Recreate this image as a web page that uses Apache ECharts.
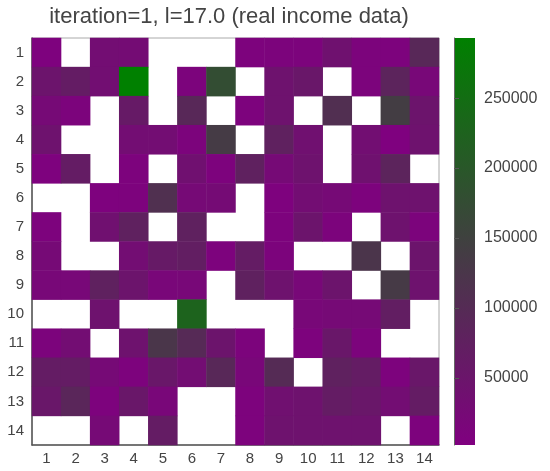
<!DOCTYPE html>
<html>
<head>
<meta charset="utf-8">
<script src="https://cdn.jsdelivr.net/npm/echarts@6/dist/echarts.min.js"></script>
<style>
	html, body { margin: 0; padding: 0; background: #fff; }
	#incomeChart { width: 550px; height: 471px; }
</style>
</head>
<body>
<div id="incomeChart"></div>
<script>
// tick labels of the two grid axes
var colLabels = ['1', '2', '3', '4', '5', '6', '7', '8', '9', '10', '11', '12', '13', '14'];
var rowLabels = ['1', '2', '3', '4', '5', '6', '7', '8', '9', '10', '11', '12', '13', '14'];

// income per cell, one array per row (top to bottom), null = no data (white)
var row1 = [6000, null, 32000, 30000, null, null, null, 8000, 12000, 10000, 40000, 12000, 8000, 92000];
var row2 = [48000, 66000, 33000, 293000, null, 10000, 178000, null, 42000, 55000, null, 10000, 84000, 20000];
var row3 = [24000, 10000, null, 62000, null, 93000, null, 9000, 44000, null, 108000, null, 140000, 48000];
var row4 = [43000, null, null, 32000, 32000, 10000, 136000, null, 77000, 38000, null, 33000, 4000, 42000];
var row5 = [7000, 66000, null, 8000, null, 38000, 9000, 77000, 25000, 43000, null, 40000, 84000, null];
var row6 = [null, null, 6000, 8000, 111000, 24000, 26000, null, 7000, 32000, 25000, 9000, 44000, 42000];
var row7 = [8000, null, 38000, 78000, null, 76000, null, null, 9000, 48000, 12000, null, 43000, 10000];
var row8 = [24000, null, null, 32000, 62000, 70000, 9000, 66000, 10000, null, null, 122000, null, 47000];
var row9 = [20000, 20000, 78000, 48000, 19000, 21000, null, 77000, 43000, 20000, 47000, null, 134000, 43000];
var row10 = [null, null, 43000, null, null, 226000, null, null, null, 20000, 24000, 25000, 70000, null];
var row11 = [10000, 32000, null, 43000, 125000, 98000, 47000, 10000, null, 9000, 55000, 10000, null, null];
var row12 = [65000, 66000, 25000, 8000, 54000, 32000, 93000, 18000, 100000, null, 76000, 66000, 8000, 54000];
var row13 = [54000, 88000, 8000, 55000, 18000, null, null, 9000, 38000, 43000, 65000, 55000, 32000, 65000];
var row14 = [null, null, 25000, null, 66000, null, null, 8000, 43000, 44000, 42000, 43000, null, 9000];

// colour bar range and its tick labels
var colorMin = 2000;
var colorMax = 293000;
var colorTicks = [50000, 100000, 150000, 200000, 250000];
var lowColor = '#800080';
var highColor = '#008000';

var incomeRows = [row1, row2, row3, row4, row5, row6, row7, row8, row9, row10, row11, row12, row13, row14];

var heatData = [];
for (var r = 0; r < incomeRows.length; r++) {
	for (var c = 0; c < incomeRows[r].length; c++) {
		if (incomeRows[r][c] !== null) {
			heatData.push([c, r, incomeRows[r][c]]);
		}
	}
}

var fontName = 'Liberation Sans, Arial, sans-serif';

var incomeChart = echarts.init(document.getElementById('incomeChart'));

var option = {
	backgroundColor : '#fff',
	animation : false,
	title : {
		text : 'iteration=1, l=17.0 (real income data)',
		left : 224,
		textAlign : 'center',
		top : 1,
		textStyle : {
			color : '#444',
			fontSize : 22,
			fontWeight : 'normal',
			fontFamily : fontName
		}
	},
	grid : [ {
		left : 32,
		top : 38,
		width : 407,
		height : 407,
		show : true,
		borderColor : '#aaa',
		borderWidth : 1
	}, {
		// colour bar: gradient from low (bottom) to high (top)
		left : 454,
		top : 38,
		width : 21,
		height : 407,
		show : true,
		borderWidth : 0,
		backgroundColor : new echarts.graphic.LinearGradient(0, 1, 0, 0, [
			{ offset : 0, color : lowColor },
			{ offset : 1, color : highColor }
		])
	} ],
	xAxis : [ {
		type : 'category',
		gridIndex : 0,
		data : colLabels,
		axisLine : { lineStyle : { color : '#555', width : 1.5 } },
		axisTick : { alignWithLabel : true, inside : true, length : 5, lineStyle : { color : '#555' } },
		axisLabel : { margin : 6, color : '#444', fontSize : 15, fontFamily : fontName },
		splitLine : { show : false }
	}, {
		type : 'value',
		gridIndex : 1,
		show : false
	} ],
	yAxis : [ {
		type : 'category',
		gridIndex : 0,
		inverse : true,
		data : rowLabels,
		axisLine : { lineStyle : { color : '#555', width : 1.5 } },
		axisTick : { alignWithLabel : true, inside : true, length : 5, lineStyle : { color : '#555' } },
		axisLabel : { margin : 8, color : '#444', fontSize : 15, fontFamily : fontName },
		splitLine : { show : false }
	}, {
		type : 'value',
		gridIndex : 1,
		position : 'right',
		min : colorMin,
		max : colorMax,
		axisLine : { show : true, lineStyle : { color : '#666', width : 1 } },
		axisTick : { show : true, inside : false, length : 5, lineStyle : { color : '#555' } },
		axisLabel : {
			margin : 9,
			color : '#444',
			fontSize : 16,
			fontFamily : fontName,
			showMinLabel : false,
			showMaxLabel : false,
			formatter : function(v) {
				return colorTicks.indexOf(v) >= 0 ? String(v) : '';
			}
		},
		splitLine : { show : false }
	} ],
	visualMap : {
		type : 'continuous',
		show : false,
		min : colorMin,
		max : colorMax,
		seriesIndex : 0,
		inRange : {
			color : [ lowColor, highColor ]
		}
	},
	series : [ {
		type : 'heatmap',
		xAxisIndex : 0,
		yAxisIndex : 0,
		data : heatData,
		itemStyle : { borderWidth : 0 }
	} ]
};
incomeChart.setOption(option);
</script>
</body>
</html>
